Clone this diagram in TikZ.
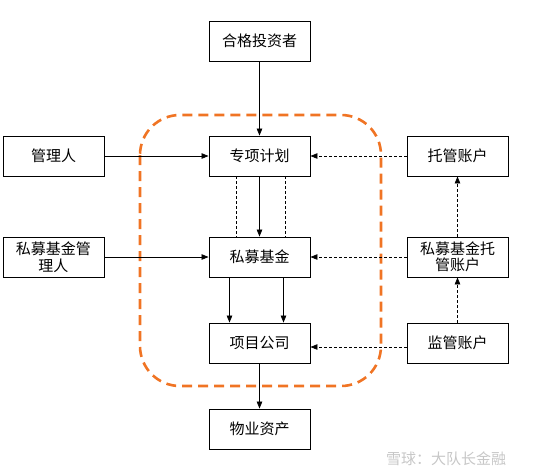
\documentclass[tikz,border=0pt]{standalone}
\usepackage{fontspec}
\setmainfont{Noto Sans CJK SC}
\usetikzlibrary{arrows.meta}
\definecolor{frameorange}{RGB}{240,116,36}
\tikzset{
  box/.style={draw,line width=0.9pt,minimum width=101pt,minimum height=40pt,inner sep=0pt,align=center,font=\fontsize{15}{16.5}\selectfont},
  arr/.style={line width=0.8pt,-{Triangle[length=7pt,width=5.5pt]}},
  darr/.style={arr,dash pattern=on 3pt off 2pt},
}
\begin{document}
\begin{tikzpicture}[x=1pt,y=-1pt]
\useasboundingbox (0,0) rectangle (554,475);
% orange frame
\draw[frameorange,line width=2.6pt,dash pattern=on 10pt off 6pt,rounded corners=40pt] (140,115) rectangle (381,386);
% middle column
\node[box] (investor) at (259.5,41) {合格投资者};
\node[box] (plan) at (259.5,156) {专项计划};
\node[box] (fund) at (259.5,257) {私募基金};
\node[box] (company) at (259.5,343) {项目公司};
\node[box] (asset) at (259.5,429) {物业资产};
% left column
\node[box] (manager) at (53.5,156) {管理人};
\node[box] (fundmanager) at (53.5,257) {私募基金管\\理人};
% right column
\node[box] (custody) at (457.5,156) {托管账户};
\node[box] (fundcustody) at (457.5,257) {私募基金托\\管账户};
\node[box] (supervise) at (457.5,343) {监管账户};
% solid arrows
\draw[arr] (investor) -- (plan);
\draw[arr] (plan) -- (fund);
\draw[arr] (manager) -- (plan);
\draw[arr] (fundmanager) -- (fund);
\draw[arr] ([xshift=-30pt]fund.south) -- ([xshift=-30pt]company.north);
\draw[arr] ([xshift=24pt]fund.south) -- ([xshift=24pt]company.north);
\draw[arr] (company) -- (asset);
\draw[line width=0.6pt,dash pattern=on 3pt off 2pt] ([xshift=-23pt]plan.south) -- ([xshift=-23pt]fund.north);
\draw[line width=0.6pt,dash pattern=on 3pt off 2pt] ([xshift=26pt]plan.south) -- ([xshift=26pt]fund.north);
% dashed arrows
\draw[darr] (custody) -- (plan);
\draw[darr] (fundcustody) -- (fund);
\draw[darr] ([yshift=-4pt]supervise.west) -- ([yshift=-4pt]company.east);
\draw[darr] (fundcustody) -- (custody);
\draw[darr] (supervise) -- (fundcustody);
% watermark
\node[text=black!22,font=\fontsize{15}{16}\selectfont] (mark) at (446,459) {雪球：大队长金融};
\end{tikzpicture}
\end{document}
